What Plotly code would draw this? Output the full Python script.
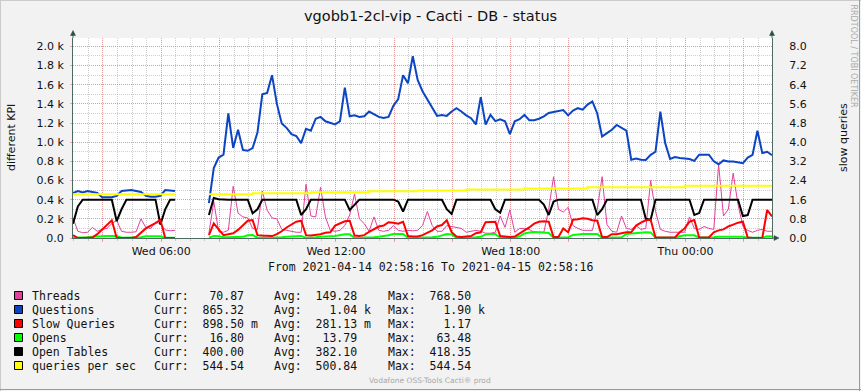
import pandas as pd
import plotly.graph_objects as go

# ---------------- data (10-minute samples, k = 0..144) ----------------
start = pd.Timestamp("2021-04-14 02:58:16")
end = pd.Timestamp("2021-04-15 02:58:16")
N = None

threads = [
    210, 70, 55, 60, 110, 70, 90, 100, 150, 185,
    70, 60, 60, 65, 200, 110, 100, 165, 150, 85,
    75, 80,
    N, N, N, N, N, N,
    50, 380, 70, 60, 80, 540, 260, 220, 210, 100,
    90, 490, 290, 210, 200, 90, 80, 70, 60, 60,
    560, 230, 220, 530, 220, 80, 70, 80, 130, 240,
    460, 200, 150, 70, 220, 80, 70, 80, 130, 80,
    70, 80, 75, 80, 130, 276, 130, 70, 70, 130,
    120, 110, 100, 60, 70, 80, 70, 50, 50, 60,
    230, 110, 293, 60, 100, 100, 90, 60, 60, 60,
    300, 640, 300, 270, 320, 130, 100, 80, 80, 80,
    300, 640, 140, 70, 60, 230, 100, 90, 130, 90,
    100, 600, 280, 90, 70, 60, 60, 60, 60, 220,
    100, 90, 120, 100, 90, 768.5, 230, 300, 677, 350,
    120, 80, 60, 80, 90, 70, 70.87,
]

questions = [
    470, 490, 475, 490, 480, 470, 425, 425, 425, 440,
    490, 495, 500, 490, 480, 440, 430, 430, 440, 500,
    495, 490,
    N, N, N, N, N, N,
    363, 730, 840, 870, 1300, 940, 1130, 920, 910, 939,
    1100, 1500, 1515, 1700, 1400, 1195, 1150, 1085, 1065, 990,
    1140, 1120, 1245, 1264, 1218, 1200, 1185, 1220, 1570, 1270,
    1280, 1264, 1270, 1320, 1290, 1264, 1253, 1264, 1380, 1450,
    1700, 1615, 1898, 1650, 1532, 1445, 1360, 1275, 1285, 1275,
    1320, 1355, 1320, 1280, 1250, 1185, 1470, 1183, 1285, 1220,
    1240, 1218, 1085, 1218, 1240, 1285, 1230, 1230, 1245, 1270,
    1305, 1315, 1318, 1335, 1280, 1330, 1355, 1340, 1393, 1425,
    1300, 1060, 1095, 1130, 1180, 1150, 1120, 817, 830, 817,
    815, 868, 900, 1320, 990, 825, 845, 836, 834, 825,
    805, 869, 869, 869, 800, 770, 810, 799, 799, 789,
    780, 840, 869, 1120, 887, 900, 865.32,
]

slow_queries = [
    0.12, 0.0, 0.0, 0.0, 0.02, 0.16, 0.36, 0.52, 0.74, 0.0,
    0.0, 0.0, 0.0, 0.04, 0.24, 0.40, 0.52, 0.62, 0.76, 0.0,
    0.0, 0.0,
    N, N, N, N, N, N,
    0.12, 0.61, 0.36, 0.12, 0.16, 0.20, 0.34, 0.54, 0.72, 0.75,
    0.12, 0.10, 0.08, 0.08, 0.16, 0.28, 0.44, 0.56, 0.68, 0.72,
    0.12, 0.10, 0.12, 0.16, 0.22, 0.24, 0.52, 0.60, 0.70, 0.72,
    0.10, 0.08, 0.12, 0.26, 0.36, 0.48, 0.52, 0.66, 0.64, 0.60,
    0.68, 0.08, 0.06, 0.06, 0.12, 0.22, 0.32, 0.48, 0.54, 0.74,
    0.24, 0.06, 0.04, 0.06, 0.08, 0.20, 0.24, 0.66, 0.68, 0.68,
    0.08, 0.06, 0.04, 0.06, 0.20, 0.32, 0.44, 0.60, 0.68, 0.70,
    0.68, 0.04, 0.04, 0.40, 0.24, 0.76, 0.78, 0.82, 0.80, 0.74,
    0.72, 0.04, 0.04, 0.16, 0.16, 0.20, 0.24, 0.24, 0.52, 0.64,
    0.74, 0.76, 0.02, 0.02, 0.02, 0.02, 0.02, 0.24, 0.40, 0.68,
    0.75, 0.02, 0.02, 0.02, 0.24, 0.32, 0.36, 0.48, 0.56, 0.64,
    0.68, 0.02, 0.0, 0.0, 0.0, 1.17, 0.8985,
]

opens = [
    3, 3, 3, 8, 12, 18, 22, 22, 22, 22,
    3, 3, 3, 3, 8, 18, 18, 18, 18, 3,
    3, 3,
    N, N, N, N, N, N,
    3, 22, 18, 8, 8, 8, 8, 12, 28, 32,
    3, 3, 3, 3, 3, 8, 12, 18, 22, 22,
    3, 3, 8, 12, 12, 18, 22, 32, 38, 38,
    3, 3, 3, 8, 8, 12, 18, 28, 42, 42,
    42, 3, 3, 3, 3, 8, 8, 12, 28, 42,
    38, 3, 3, 3, 3, 8, 12, 38, 42, 42,
    3, 3, 3, 3, 18, 48, 58, 63.48, 60, 58,
    52, 3, 3, 3, 8, 32, 38, 42, 42, 42,
    42, 3, 3, 3, 3, 8, 42, 48, 52, 58,
    60, 58, 3, 3, 3, 3, 3, 18, 28, 28,
    28, 3, 3, 3, 8, 12, 12, 12, 12, 12,
    12, 3, 3, 3, 3, 17, 16.8,
]

open_tables = [
    150, 330, 400, 400, 400, 400, 400, 400, 400, 175,
    300, 400, 400, 400, 400, 400, 400, 400, 140, 300,
    400, 400,
    N, N, N, N, N, N,
    240, 418.35, 405, 400, 400, 400, 400, 400, 400, 258,
    300, 400, 400, 400, 400, 400, 400, 400, 400, 240,
    300, 400, 400, 400, 400, 400, 400, 400, 400, 293,
    350, 400, 400, 400, 400, 400, 400, 400, 400, 380,
    276, 400, 400, 400, 400, 400, 400, 400, 400, 300,
    251, 400, 400, 400, 400, 400, 400, 400, 400, 300,
    265, 400, 400, 400, 400, 400, 400, 400, 400, 350,
    240, 380, 400, 400, 400, 400, 400, 400, 400, 400,
    240, 300, 400, 400, 400, 400, 400, 400, 400, 400,
    200, 190, 400, 400, 400, 400, 400, 400, 400, 400,
    240, 260, 400, 400, 400, 400, 400, 400, 400, 400,
    230, 240, 400, 400, 400, 400, 400,
]

queries_per_sec = [
    457, 457, 457, 457, 457, 457, 457, 457, 457, 457,
    457, 457, 457, 457, 457, 457, 457, 457, 457, 457,
    457, 457,
    N, N, N, N, N, N,
    457, 457, 457, 457, 457, 457, 457, 457, 457, 468,
    468, 468, 468, 468, 468, 468, 468, 468, 468, 468,
    468, 478, 478, 478, 478, 478, 478, 478, 478, 478,
    478, 478, 478, 487, 487, 487, 487, 487, 487, 487,
    487, 487, 487, 496, 496, 496, 496, 496, 496, 496,
    496, 496, 496, 505, 505, 505, 505, 505, 505, 505,
    505, 505, 505, 505, 505, 518, 518, 518, 518, 518,
    518, 518, 518, 518, 518, 518, 518, 518, 530, 530,
    530, 530, 530, 530, 530, 530, 530, 530, 530, 530,
    530, 530, 530, 530, 530, 530, 530, 530, 544.5, 544.5,
    544.5, 544.5, 544.5, 544.5, 544.5, 544.5, 544.5, 544.5, 544.5, 544.5,
    544.5, 544.5, 544.5, 544.5, 544.5, 544.5, 544.54,
]

times = pd.date_range(start, end, periods=len(questions))

series_names = ["Threads", "Questions", "Slow Queries", "Opens", "Open Tables", "queries per sec"]
series_colors = ["#E3409C", "#0B45C4", "#FF0000", "#00FF00", "#000000", "#FFFF00"]
legend_curr = ["70.87", "865.32", "898.50", "16.80", "400.00", "544.54"]
legend_curr_unit = ["", "", "m", "", "", ""]
legend_avg = ["149.28", "1.04", "281.13", "13.79", "382.10", "500.84"]
legend_avg_unit = ["", "k", "m", "", "", ""]
legend_max = ["768.50", "1.90", "1.17", "63.48", "418.35", "544.54"]
legend_max_unit = ["", "k", "", "", "", ""]

left_ticks = [0, 200, 400, 600, 800, 1000, 1200, 1400, 1600, 1800, 2000]
left_tick_text = ["0.0", "0.2 k", "0.4 k", "0.6 k", "0.8 k", "1.0 k", "1.2 k", "1.4 k", "1.6 k", "1.8 k", "2.0 k"]
right_ticks = [0, 0.8, 1.6, 2.4, 3.2, 4.0, 4.8, 5.6, 6.4, 7.2, 8.0]
right_tick_text = ["0.0", "0.8", "1.6", "2.4", "3.2", "4.0", "4.8", "5.6", "6.4", "7.2", "8.0"]
x_ticks = pd.date_range("2021-04-14 04:00:00", "2021-04-15 02:00:00", freq="2h")
x_tick_labels = {"2021-04-14 06:00": "Wed 06:00", "2021-04-14 12:00": "Wed 12:00",
                 "2021-04-14 18:00": "Wed 18:00", "2021-04-15 00:00": "Thu 00:00"}

# ---------------- layout geometry (pixels) ----------------
W, H = 861, 391
PL, PR, PT, PB = 73, 772, 38, 238


def px(x):
    return (x - PL) / (PR - PL)


def py(y):
    return (PB - y) / (PB - PT)


SANS = "DejaVu Sans, Verdana, sans-serif"
MONO = "DejaVu Sans Mono, monospace"
AXIS_C = "#4F6B61"
ARROW_C = "#2C4D43"
MGRID = "rgba(240,110,110,0.55)"
GRID = "rgba(130,130,130,0.38)"

fig = go.Figure()
data_cols = [threads, questions, slow_queries, opens, open_tables, queries_per_sec]
for i, (name, vals) in enumerate(zip(series_names, data_cols)):
    fig.add_trace(go.Scatter(
        x=times, y=vals, name=name, mode="lines",
        yaxis="y2" if name == "Slow Queries" else "y",
        line=dict(color=series_colors[i], width=1 if name == "Threads" else 2,
                  shape="hv" if name == "queries per sec" else "linear"),
        connectgaps=False, showlegend=False, hoverinfo="skip",
    ))

fig.update_layout(
    width=W, height=H,
    margin=dict(l=PL, r=W - PR, t=PT, b=H - PB, pad=0),
    paper_bgcolor="#F2F2F2", plot_bgcolor="#FFFFFF",
    font=dict(family=SANS, size=11, color="#111111"),
    showlegend=False,
    xaxis=dict(
        type="date", range=[start, end], showline=True, linecolor=AXIS_C, linewidth=1,
        tickvals=list(x_ticks),
        ticktext=[x_tick_labels.get(t.strftime("%Y-%m-%d %H:%M"), "") for t in x_ticks],
        ticks="outside", ticklen=3, tickcolor=MGRID, tickfont=dict(family=SANS, size=11, color="#111"),
        showgrid=True, gridcolor=MGRID, griddash="1px,1px", gridwidth=1,
        minor=dict(dtick=1800000, tick0="2021-04-14 03:00:00", showgrid=True, gridcolor=GRID,
                   griddash="1px,1px", ticks="outside", ticklen=2, tickcolor=GRID),
        zeroline=False, fixedrange=True,
    ),
    yaxis=dict(
        range=[0, 2000 * 200 / 191.6], tickvals=left_ticks, ticktext=left_tick_text,
        showline=True, linecolor=AXIS_C, linewidth=1, ticks="outside", ticklen=2, tickcolor=MGRID,
        ticklabelstandoff=4,
        showgrid=True, gridcolor=MGRID, griddash="1px,1px", gridwidth=1,
        minor=dict(dtick=100, showgrid=True, gridcolor=GRID, griddash="1px,1px"),
        zeroline=False, fixedrange=True, tickfont=dict(family=SANS, size=11, color="#111"),
    ),
    yaxis2=dict(
        overlaying="y", side="right", range=[0, 8 * 200 / 191.6],
        tickvals=right_ticks, ticktext=right_tick_text, showgrid=False, zeroline=False,
        showline=True, linecolor=AXIS_C, linewidth=1, ticks="", ticklabelstandoff=14,
        fixedrange=True, tickfont=dict(family=SANS, size=11, color="#111"),
    ),
)

shapes = []
# image border (3D shade)
shapes.append(dict(type="line", xref="paper", yref="paper", x0=px(0), x1=px(W), y0=py(0.5), y1=py(0.5),
                   line=dict(color="#CBCBCB", width=1)))
shapes.append(dict(type="line", xref="paper", yref="paper", x0=px(0.5), x1=px(0.5), y0=py(0), y1=py(H),
                   line=dict(color="#CBCBCB", width=1)))
shapes.append(dict(type="line", xref="paper", yref="paper", x0=px(0), x1=px(W), y0=py(H - 1.5), y1=py(H - 1.5),
                   line=dict(color="#9A9A9A", width=1)))
shapes.append(dict(type="line", xref="paper", yref="paper", x0=px(W - 1.5), x1=px(W - 1.5), y0=py(0), y1=py(H),
                   line=dict(color="#9A9A9A", width=1)))
# axis extensions and arrows
for ax_x in (PL, PR):
    shapes.append(dict(type="line", xref="paper", yref="paper", x0=px(ax_x), x1=px(ax_x), y0=py(PT), y1=py(34),
                       line=dict(color=AXIS_C, width=1)))
    shapes.append(dict(type="path", xref="paper", yref="paper",
                       path=f"M {px(ax_x - 2.5)},{py(35.5)} L {px(ax_x + 2.5)},{py(35.5)} L {px(ax_x)},{py(30.5)} Z",
                       fillcolor=ARROW_C, line=dict(color=ARROW_C, width=0.5)))
shapes.append(dict(type="line", xref="paper", yref="paper", x0=px(PR), x1=px(775), y0=py(PB), y1=py(PB),
                   line=dict(color=AXIS_C, width=1)))
shapes.append(dict(type="path", xref="paper", yref="paper",
                   path=f"M {px(774)},{py(PB - 2.5)} L {px(774)},{py(PB + 2.5)} L {px(779)},{py(PB)} Z",
                   fillcolor=ARROW_C, line=dict(color=ARROW_C, width=0.5)))

annotations = []


def note(x, y, text, size=11, family=SANS, color="#111111", xanchor="center", angle=0):
    annotations.append(dict(x=px(x), y=py(y), xref="paper", yref="paper", text=text, showarrow=False,
                            xanchor=xanchor, yanchor="middle", textangle=angle,
                            font=dict(family=family, size=size, color=color)))


note(430.5, 16, "vgobb1-2cl-vip - Cacti - DB - status", size=14.5)
note(11, 137, "different KPI", size=11, angle=-90)
note(843, 137, "slow queries", size=11, angle=-90)
note(852.5, 56, "RRDTOOL / TOBI OETIKER", size=8, color="#AAAAAA", angle=90)
note(430.5, 267, "From 2021-04-14 02:58:16 To 2021-04-15 02:58:16".replace(" ", "\u00a0"), size=11.5, family=MONO)
note(430, 380, "Vodafone OSS-Tools Cacti® prod", size=7.5, color="#A8A8A8")


def field(label, value, unit):
    s = label + value.rjust(8) + ((" " + unit) if unit else "")
    return s.replace(" ", "\u00a0")


for i, name in enumerate(series_names):
    yrow = 295.5 + 14 * i
    shapes.append(dict(type="rect", xref="paper", yref="paper", x0=px(14.5), x1=px(22.5),
                       y0=py(yrow + 4), y1=py(yrow - 4), fillcolor=series_colors[i],
                       line=dict(color="#000000", width=1)))
    note(30.4, yrow, name.replace(" ", "\u00a0"), size=11.5, family=MONO, xanchor="left")
    note(151.8, yrow, field("Curr:", legend_curr[i], legend_curr_unit[i]), size=11.5, family=MONO, xanchor="left")
    note(272, yrow, field("Avg:", legend_avg[i], legend_avg_unit[i]), size=11.5, family=MONO, xanchor="left")
    note(386.4, yrow, field("Max:", legend_max[i], legend_max_unit[i]), size=11.5, family=MONO, xanchor="left")

fig.update_layout(shapes=shapes, annotations=annotations)
fig.write_html("out.html", config={"displayModeBar": False},
               post_script="document.body.style.margin='0';document.body.style.overflow='hidden';")
